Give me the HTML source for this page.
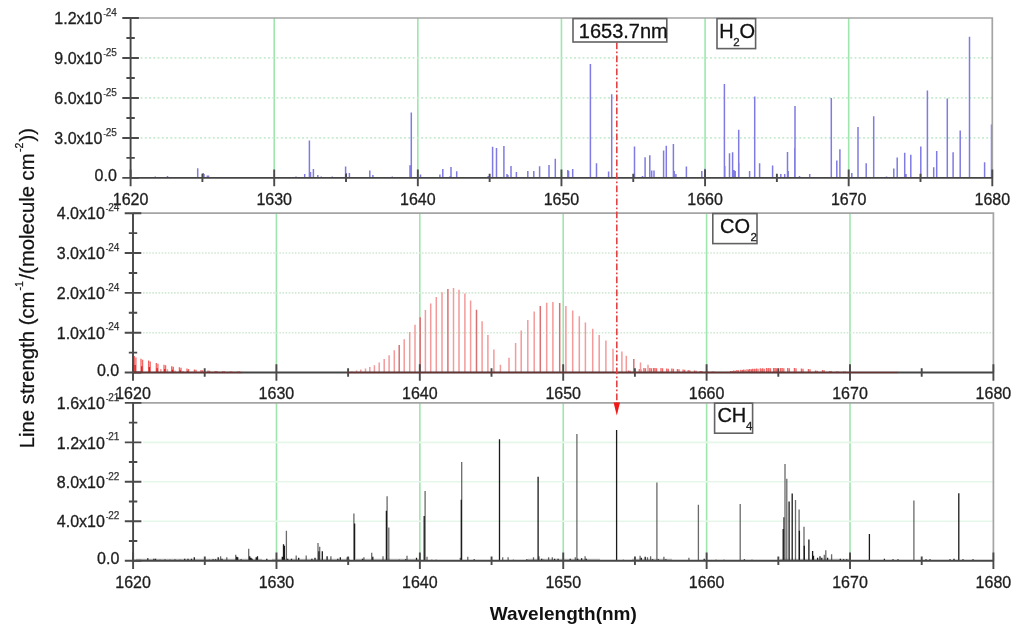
<!DOCTYPE html>
<html><head><meta charset="utf-8"><title>Line strength spectra</title>
<style>
html,body{margin:0;padding:0;background:#fff;}
body{width:1024px;height:634px;overflow:hidden;}
svg{display:block;}
text{font-family:"Liberation Sans", Arial, sans-serif;fill:#1e1e1e;}
.tl{font-size:16px;stroke:#1e1e1e;stroke-width:0.3px;}
.sp{font-size:10px;fill:#333;stroke:#333;stroke-width:0.25px;}
.an{font-size:20px;fill:#111;stroke:#111;stroke-width:0.3px;}
.sb{font-size:11.5px;fill:#222;stroke:#222;stroke-width:0.3px;}
.xt{font-size:19px;font-weight:bold;fill:#111;}
.yt{font-size:20.3px;fill:#111;stroke:#111;stroke-width:0.25px;}
.ys{font-size:10.5px;}
.mn{font-size:7px;}
</style></head>
<body>
<svg width="1024" height="634" viewBox="0 0 1024 634">
<rect width="1024" height="634" fill="#fff"/>
<g id="grid">
<line x1="274.22" y1="18" x2="274.22" y2="177.9" stroke="#9fe6ae" stroke-width="1.6"/>
<line x1="417.83" y1="18" x2="417.83" y2="177.9" stroke="#9fe6ae" stroke-width="1.6"/>
<line x1="561.45" y1="18" x2="561.45" y2="177.9" stroke="#9fe6ae" stroke-width="1.6"/>
<line x1="705.07" y1="18" x2="705.07" y2="177.9" stroke="#9fe6ae" stroke-width="1.6"/>
<line x1="848.68" y1="18" x2="848.68" y2="177.9" stroke="#9fe6ae" stroke-width="1.6"/>
<line x1="140.6" y1="137.93" x2="992.3" y2="137.93" stroke="#c6ebce" stroke-width="1.7" stroke-dasharray="1.8 2.45"/>
<line x1="140.6" y1="97.95" x2="992.3" y2="97.95" stroke="#c6ebce" stroke-width="1.7" stroke-dasharray="1.8 2.45"/>
<line x1="140.6" y1="57.97" x2="992.3" y2="57.97" stroke="#c6ebce" stroke-width="1.7" stroke-dasharray="1.8 2.45"/>
<line x1="276.4" y1="213.2" x2="276.4" y2="372.5" stroke="#9fe6ae" stroke-width="1.6"/>
<line x1="419.8" y1="213.2" x2="419.8" y2="372.5" stroke="#9fe6ae" stroke-width="1.6"/>
<line x1="563.2" y1="213.2" x2="563.2" y2="372.5" stroke="#9fe6ae" stroke-width="1.6"/>
<line x1="706.6" y1="213.2" x2="706.6" y2="372.5" stroke="#9fe6ae" stroke-width="1.6"/>
<line x1="850" y1="213.2" x2="850" y2="372.5" stroke="#9fe6ae" stroke-width="1.6"/>
<line x1="143" y1="332.68" x2="993.4" y2="332.68" stroke="#d2e9d6" stroke-width="1.6" stroke-dasharray="1.6 1.5"/>
<line x1="143" y1="292.85" x2="993.4" y2="292.85" stroke="#d2e9d6" stroke-width="1.6" stroke-dasharray="1.6 1.5"/>
<line x1="143" y1="253.02" x2="993.4" y2="253.02" stroke="#d2e9d6" stroke-width="1.6" stroke-dasharray="1.6 1.5"/>
<line x1="276.48" y1="402.9" x2="276.48" y2="560.7" stroke="#9fe6ae" stroke-width="1.6"/>
<line x1="419.87" y1="402.9" x2="419.87" y2="560.7" stroke="#9fe6ae" stroke-width="1.6"/>
<line x1="563.25" y1="402.9" x2="563.25" y2="560.7" stroke="#9fe6ae" stroke-width="1.6"/>
<line x1="706.63" y1="402.9" x2="706.63" y2="560.7" stroke="#9fe6ae" stroke-width="1.6"/>
<line x1="850.02" y1="402.9" x2="850.02" y2="560.7" stroke="#9fe6ae" stroke-width="1.6"/>
<line x1="143.1" y1="521.25" x2="993.4" y2="521.25" stroke="#e6f7e9" stroke-width="1.6" stroke-dasharray="none"/>
<line x1="143.1" y1="481.8" x2="993.4" y2="481.8" stroke="#e6f7e9" stroke-width="1.6" stroke-dasharray="none"/>
<line x1="143.1" y1="442.35" x2="993.4" y2="442.35" stroke="#e6f7e9" stroke-width="1.6" stroke-dasharray="none"/>
</g>
<g id="data">
<path d="M155.2 177.9V176.4M167.5 177.9V175.9M197.7 177.9V168.3M203.2 177.9V172.9M204 177.9V173.9M207.3 177.9V175.4M208.5 177.9V175.4M243.7 177.9V176.9M283 177.9V176.9M288.3 177.9V176.9M296 177.9V176.4M304.7 177.9V173.9M309.4 177.9V140.4M310.5 177.9V172.1M313.4 177.9V169.1M317.8 177.9V174.9M321.2 177.9V176.4M322.5 177.9V176.9M332.2 177.9V176.4M345.6 177.9V166.4M346.3 177.9V172.9M349.4 177.9V172.9M369.8 177.9V170.4M372.9 177.9V174.9M392.3 177.9V176.4M410 177.9V165.3M411.3 177.9V112.5M420.5 177.9V174.4M439.9 177.9V174.4M442.8 177.9V168.9M450.2 177.9V175.9M451 177.9V166.9M456.7 177.9V171.3M488.2 177.9V175.9M492.6 177.9V146.7M496.5 177.9V148M503.9 177.9V146M507 177.9V173.9M507.9 177.9V174.9M511 177.9V165.9M516.4 177.9V172.1M527.8 177.9V171.1M533.8 177.9V170.9M539.6 177.9V166.2M544.5 177.9V176.9M549 177.9V165M555.3 177.9V158.7M567.8 177.9V170.1M568.6 177.9V171.1M572.7 177.9V169.1M590.4 177.9V63.9M596.5 177.9V163.3M608.6 177.9V171.5M611.7 177.9V94.2M629.7 177.9V176.9M634.5 177.9V146.5M642.5 177.9V175.9M645.1 177.9V157.2M649.8 177.9V155.3M651.7 177.9V170.5M654 177.9V170.5M663.6 177.9V150.5M666.3 177.9V145.8M673.4 177.9V143.9M674.2 177.9V170.9M675.9 177.9V173.9M686.4 177.9V166.6M701.8 177.9V171.1M704.9 177.9V168.7M724.4 177.9V83.9M724.8 177.9V165.9M729.5 177.9V153.3M732.6 177.9V152.3M734 177.9V169.9M735.2 177.9V170.9M738.7 177.9V129.7M738.9 177.9V162.9M749.6 177.9V171.1M754.7 177.9V96.6M759.6 177.9V163.3M772.6 177.9V165.5M780.8 177.9V173.9M784.7 177.9V173.9M787.5 177.9V152.1M788.2 177.9V170.9M795 177.9V106.1M794.8 177.9V147.9M799.5 177.9V175.9M809.7 177.9V173.9M831.3 177.9V97.9M836.8 177.9V160.5M839.9 177.9V149.2M851.8 177.9V172.9M858 177.9V126.9M866.2 177.9V163.3M873.7 177.9V116.3M886.5 177.9V176.4M893.8 177.9V168.5M897.2 177.9V157.6M904.7 177.9V152.7M906 177.9V173.9M910.8 177.9V154.7M920.8 177.9V146.4M927.4 177.9V90.4M933.7 177.9V167.3M936.7 177.9V150.9M947.3 177.9V98.5M953.1 177.9V152.2M960.2 177.9V130.5M969.5 177.9V36.7M984.6 177.9V162.3M991.5 177.9V124.4" fill="none" stroke="#7f7be2" stroke-width="1.5"/>
<path d="M134.3 372.5V356.1M135.9 372.5V357.41M141 372.5V358.7M142.6 372.5V359.8M148.6 372.5V360.5M150.2 372.5V361.46M156.3 372.5V362.9M157.9 372.5V363.67M164 372.5V364.7M165.6 372.5V365.32M171.7 372.5V366.2M173.3 372.5V366.7M179.4 372.5V367.3M181 372.5V367.72M187 372.5V368.6M188.6 372.5V368.91M194.4 372.5V369.5M196 372.5V369.74M201 372.5V370M202.6 372.5V370.2M208 372.5V370.5M209.6 372.5V370.66M215.2 372.5V370.9M216.8 372.5V371.03M222.7 372.5V371.2M224.3 372.5V371.3M230.2 372.5V371.4M231.8 372.5V371.49M237.7 372.5V371.5M239.3 372.5V371.58M628.5 372.5V370.5M630.1 372.5V370.66M639.3 372.5V369M640.9 372.5V369.28M643.9 372.5V367.9M645.5 372.5V368.27M649.8 372.5V367.9M651.4 372.5V368.27M653.5 372.5V367.9M655.1 372.5V368.27M655 372.5V368M656.6 372.5V368.36M661 372.5V368M662.6 372.5V368.36M666.7 372.5V368.5M668.3 372.5V368.82M671.8 372.5V368.5M673.4 372.5V368.82M677.4 372.5V369M679 372.5V369.28M683.1 372.5V369.5M684.7 372.5V369.74M688.2 372.5V370M689.8 372.5V370.2M694.5 372.5V370.5M696.1 372.5V370.66M700.2 372.5V371M701.8 372.5V371.12M706.2 372.5V371.3M707.8 372.5V371.4M712.2 372.5V371.5M713.8 372.5V371.58M730.6 372.5V371M732.2 372.5V371.12M733.7 372.5V370.5M735.3 372.5V370.66M736.9 372.5V370M738.5 372.5V370.2M740.8 372.5V369.7M742.4 372.5V369.92M743.5 372.5V369.5M745.1 372.5V369.74M747 372.5V369.2M748.6 372.5V369.46M749.7 372.5V369M751.3 372.5V369.28M752.5 372.5V368.7M754.1 372.5V369M754.4 372.5V368.7M756 372.5V369M756.4 372.5V368.5M758 372.5V368.82M760.3 372.5V368.3M761.9 372.5V368.64M762.6 372.5V368.3M764.2 372.5V368.64M766.5 372.5V368M768.1 372.5V368.36M768.9 372.5V368M770.5 372.5V368.36M773.6 372.5V368M775.2 372.5V368.36M775.1 372.5V368M776.7 372.5V368.36M780.6 372.5V368M782.2 372.5V368.36M782.2 372.5V368M783.8 372.5V368.36M787.7 372.5V368M789.3 372.5V368.36M794.4 372.5V368M796 372.5V368.36M801.4 372.5V368.5M803 372.5V368.82M808.4 372.5V369M810 372.5V369.28M815.5 372.5V370.5M817.1 372.5V370.66M822.5 372.5V370M824.1 372.5V370.2M829.5 372.5V371M831.1 372.5V371.12M836.5 372.5V371.5M838.1 372.5V371.58M843.6 372.5V371.5M845.2 372.5V371.58" fill="none" stroke="#f26464" stroke-width="1.3"/>
<path d="M135.1 372.5V365.12M141.8 372.5V366.29M149.4 372.5V367.1M157.1 372.5V368.18M164.8 372.5V368.99M172.5 372.5V369.67M180.2 372.5V370.16M187.8 372.5V370.75" fill="none" stroke="#e81c1c" stroke-width="1.4"/>
<path d="M160.8 372.5V369.1M167.4 372.5V369.3M175 372.5V370.5M183 372.5V371M351.8 372.5V371.5M356.5 372.5V370.5M360.8 372.5V369.5M365.5 372.5V368.5M369.8 372.5V367M374.4 372.5V365.2M379.2 372.5V362.5M384.2 372.5V359M389.1 372.5V355.2M394.3 372.5V350.3M404.2 372.5V339.2M409.7 372.5V331.9M415 372.5V324.8M425.4 372.5V310.1M430.7 372.5V303.5M436.3 372.5V297M442 372.5V292.3M453.5 372.5V288M459 372.5V289.7M464.9 372.5V293.5M470.6 372.5V300.5M482.1 372.5V321.3M487.9 372.5V334.9M493.9 372.5V349.5M500.4 372.5V364.7M509 372.5V357.8M515.6 372.5V343.1M521.2 372.5V330.6M527.8 372.5V320.1M534.2 372.5V311.6M546.7 372.5V302.8M552.9 372.5V301.9M565.9 372.5V305.9M572.7 372.5V310.6M579.3 372.5V316.3M585.4 372.5V322.4M592.7 372.5V328.8M599.2 372.5V334.9M605.9 372.5V340.6M613 372.5V348.7M621.9 372.5V351.5M626.3 372.5V355.8M640.5 372.5V362.5M648 372.5V364.8" fill="none" stroke="#f49a9a" stroke-width="1.5"/>
<path d="M399.2 372.5V345.1M420.2 372.5V317.3M447.9 372.5V288.9M476.5 372.5V309.7M540.3 372.5V305.9M559.7 372.5V303M633.8 372.5V359.1" fill="none" stroke="#d87272" stroke-width="1.5"/>
<path d="M220.6 560.7V556.2M226.8 560.7V557.2M235.7 560.7V554.7M248.7 560.7V548.7M286.4 560.7V530.7M296.2 560.7V555.4M306.2 560.7V555.4M318 560.7V543M319.7 560.7V546.8M330.9 560.7V556.2M353.9 560.7V513.4M363.9 560.7V557.2M371.7 560.7V552.7M383 560.7V556.2M387.1 560.7V496.2M388.8 560.7V527.4M407 560.7V555.7M425.1 560.7V491M427 560.7V556.7M460.3 560.7V557.7M461.7 560.7V462.1M467.8 560.7V556.7M502.7 560.7V557.2M508.1 560.7V557.2M533.5 560.7V557.2M539 560.7V556.2M548.6 560.7V557.2M552.3 560.7V557.2M575.3 560.7V557.2M576.9 560.7V434.1M585.1 560.7V556.2M640.1 560.7V555.7M647.5 560.7V557.2M650.6 560.7V556.2M656.9 560.7V482.6M663.9 560.7V556.7M688.9 560.7V557.7M698.4 560.7V504.8M740.2 560.7V503.9M783.7 560.7V517.2M785 560.7V464M786.8 560.7V478.7M795.5 560.7V499.9M799.1 560.7V509.4M804 560.7V526.8M824.3 560.7V554.7M825.8 560.7V550.2M831.6 560.7V554.3M913.9 560.7V500.4" fill="none" stroke="#6a6a6a" stroke-width="1.3"/>
<path d="M147.8 560.7V558.2M153.9 560.7V558.7M155.6 560.7V558.7M160 560.7V559.7M165 560.7V559.5M170 560.7V559.7M175 560.7V559.5M180 560.7V559.7M184.7 560.7V558.7M188 560.7V558.7M191.5 560.7V558.7M194.3 560.7V557.2M209.4 560.7V559.7M213.1 560.7V559.2M215.5 560.7V559.2M218.2 560.7V557.2M222 560.7V558.7M236.7 560.7V556.7M237.7 560.7V557.2M241.1 560.7V559.2M249.7 560.7V556.2M251 560.7V557.7M252.1 560.7V558.7M256.2 560.7V557.2M257.5 560.7V556.2M266.8 560.7V558.7M282.3 560.7V556.7M283.5 560.7V544.3M284.4 560.7V545.7M287.7 560.7V558.7M291.5 560.7V558.7M298.7 560.7V557.7M311.9 560.7V558.7M315 560.7V557.7M318.9 560.7V551.2M322.3 560.7V551.2M327.1 560.7V556.2M337.8 560.7V558.7M340.3 560.7V557.2M347.3 560.7V557.2M354.6 560.7V523.5M362.5 560.7V558.7M372.8 560.7V556.7M386.4 560.7V510.7M399.4 560.7V559.7M405.6 560.7V559.2M416.5 560.7V557.7M424.2 560.7V515.9M431.8 560.7V559.7M436.1 560.7V559.7M461.3 560.7V499.7M474.2 560.7V559.2M499.5 560.7V439.3M513.4 560.7V559.7M526.9 560.7V559.2M538.1 560.7V476.7M541.7 560.7V558.7M543.7 560.7V559.7M554.6 560.7V558.7M558.1 560.7V558.7M570.2 560.7V558.7M577.7 560.7V558.7M581.6 560.7V558.2M586.3 560.7V558.7M616.6 560.7V430.1M623.3 560.7V559.7M641.3 560.7V557.7M645.2 560.7V556.7M652.6 560.7V559.2M658.4 560.7V559.2M665.9 560.7V559.2M704.2 560.7V558.7M716 560.7V559.7M724 560.7V559.7M744.4 560.7V559.2M752 560.7V559.7M783.2 560.7V529M789.1 560.7V501.4M792.2 560.7V493.6M799.4 560.7V530.7M804.3 560.7V545.7M808.9 560.7V539.5M812.6 560.7V551.1M813.5 560.7V555.7M817.6 560.7V557.7M820 560.7V556.2M821.8 560.7V557.7M827.6 560.7V557.7M840.3 560.7V558.7M843.6 560.7V559.2M846.7 560.7V559.2M869.4 560.7V533.9M884.4 560.7V558.7M893 560.7V559.2M898 560.7V559.2M926 560.7V559.2M930 560.7V559.2M950 560.7V559.2M954 560.7V558.7M958.8 560.7V493.3M963 560.7V559.2M973 560.7V559.2" fill="none" stroke="#1a1a1a" stroke-width="1.3"/>
<path d="M136 559.3H262M272 559.3H350M356 559.3H420M528 559.3H600M632 559.3H672M780 559.3H850" fill="none" stroke="#333" stroke-opacity="0.35" stroke-width="1"/>
</g>
<g id="axes">
<path d="M130.6 18H992.3V177.9" fill="none" stroke="#a4a4a4" stroke-width="1.7"/>
<path d="M130.6 18V177.9H992.3" fill="none" stroke="#454545" stroke-width="1.9"/>
<path d="M122.3 177.9H138.9M126.4 157.91H134.8M122.3 137.93H138.9M126.4 117.94H134.8M122.3 97.95H138.9M126.4 77.96H134.8M122.3 57.97H138.9M126.4 37.99H134.8M122.3 18H138.9M130.6 169.6V186.2M274.22 169.6V186.2M417.83 169.6V186.2M561.45 169.6V186.2M705.07 169.6V186.2M848.68 169.6V186.2M992.3 169.6V186.2M202.41 173.7V182.1M346.02 173.7V182.1M489.64 173.7V182.1M633.26 173.7V182.1M776.88 173.7V182.1M920.49 173.7V182.1" fill="none" stroke="#4a4a4a" stroke-width="1.9"/>
<path d="M133 213.2H993.4V372.5" fill="none" stroke="#a4a4a4" stroke-width="1.7"/>
<path d="M133 213.2V372.5H993.4" fill="none" stroke="#454545" stroke-width="1.9"/>
<path d="M124.7 372.5H141.3M128.8 352.59H137.2M124.7 332.68H141.3M128.8 312.76H137.2M124.7 292.85H141.3M128.8 272.94H137.2M124.7 253.02H141.3M128.8 233.11H137.2M124.7 213.2H141.3M133 364.2V380.8M276.4 364.2V380.8M419.8 364.2V380.8M563.2 364.2V380.8M706.6 364.2V380.8M850 364.2V380.8M993.4 364.2V380.8M204.7 368.3V376.7M348.1 368.3V376.7M491.5 368.3V376.7M634.9 368.3V376.7M778.3 368.3V376.7M921.7 368.3V376.7" fill="none" stroke="#4a4a4a" stroke-width="1.9"/>
<path d="M133.1 402.9H993.4V560.7" fill="none" stroke="#a4a4a4" stroke-width="1.7"/>
<path d="M133.1 402.9V560.7H993.4" fill="none" stroke="#454545" stroke-width="1.9"/>
<path d="M124.8 560.7H141.4M128.9 540.98H137.3M124.8 521.25H141.4M128.9 501.52H137.3M124.8 481.8H141.4M128.9 462.07H137.3M124.8 442.35H141.4M128.9 422.62H137.3M124.8 402.9H141.4M133.1 552.4V569M276.48 552.4V569M419.87 552.4V569M563.25 552.4V569M706.63 552.4V569M850.02 552.4V569M993.4 552.4V569M204.79 556.5V564.9M348.17 556.5V564.9M491.56 556.5V564.9M634.94 556.5V564.9M778.33 556.5V564.9M921.71 556.5V564.9" fill="none" stroke="#4a4a4a" stroke-width="1.9"/>
</g>
<g id="labels">
<text x="116.8" y="181.2" text-anchor="end" class="tl">0.0</text>
<text x="102.4" y="144.12" text-anchor="end" class="tl">3.0x10</text>
<text x="116.9" y="135.62" text-anchor="end" class="sp"><tspan class="mn">-</tspan>25</text>
<text x="102.4" y="104.15" text-anchor="end" class="tl">6.0x10</text>
<text x="116.9" y="95.65" text-anchor="end" class="sp"><tspan class="mn">-</tspan>25</text>
<text x="102.4" y="64.17" text-anchor="end" class="tl">9.0x10</text>
<text x="116.9" y="55.67" text-anchor="end" class="sp"><tspan class="mn">-</tspan>25</text>
<text x="102.4" y="24.2" text-anchor="end" class="tl">1.2x10</text>
<text x="116.9" y="15.7" text-anchor="end" class="sp"><tspan class="mn">-</tspan>24</text>
<text x="130.6" y="204.6" text-anchor="middle" class="tl">1620</text>
<text x="274.22" y="204.6" text-anchor="middle" class="tl">1630</text>
<text x="417.83" y="204.6" text-anchor="middle" class="tl">1640</text>
<text x="561.45" y="204.6" text-anchor="middle" class="tl">1650</text>
<text x="705.07" y="204.6" text-anchor="middle" class="tl">1660</text>
<text x="848.68" y="204.6" text-anchor="middle" class="tl">1670</text>
<text x="992.3" y="204.6" text-anchor="middle" class="tl">1680</text>
<text x="119.2" y="375.8" text-anchor="end" class="tl">0.0</text>
<text x="104.8" y="338.88" text-anchor="end" class="tl">1.0x10</text>
<text x="119.3" y="330.38" text-anchor="end" class="sp"><tspan class="mn">-</tspan>24</text>
<text x="104.8" y="299.05" text-anchor="end" class="tl">2.0x10</text>
<text x="119.3" y="290.55" text-anchor="end" class="sp"><tspan class="mn">-</tspan>24</text>
<text x="104.8" y="259.22" text-anchor="end" class="tl">3.0x10</text>
<text x="119.3" y="250.72" text-anchor="end" class="sp"><tspan class="mn">-</tspan>24</text>
<text x="104.8" y="219.4" text-anchor="end" class="tl">4.0x10</text>
<text x="119.3" y="210.9" text-anchor="end" class="sp"><tspan class="mn">-</tspan>24</text>
<text x="133" y="399.3" text-anchor="middle" class="tl">1620</text>
<text x="276.4" y="399.3" text-anchor="middle" class="tl">1630</text>
<text x="419.8" y="399.3" text-anchor="middle" class="tl">1640</text>
<text x="563.2" y="399.3" text-anchor="middle" class="tl">1650</text>
<text x="706.6" y="399.3" text-anchor="middle" class="tl">1660</text>
<text x="850" y="399.3" text-anchor="middle" class="tl">1670</text>
<text x="993.4" y="399.3" text-anchor="middle" class="tl">1680</text>
<text x="119.3" y="564" text-anchor="end" class="tl">0.0</text>
<text x="104.9" y="527.45" text-anchor="end" class="tl">4.0x10</text>
<text x="119.4" y="518.95" text-anchor="end" class="sp"><tspan class="mn">-</tspan>22</text>
<text x="104.9" y="488" text-anchor="end" class="tl">8.0x10</text>
<text x="119.4" y="479.5" text-anchor="end" class="sp"><tspan class="mn">-</tspan>22</text>
<text x="104.9" y="448.55" text-anchor="end" class="tl">1.2x10</text>
<text x="119.4" y="440.05" text-anchor="end" class="sp"><tspan class="mn">-</tspan>21</text>
<text x="104.9" y="409.1" text-anchor="end" class="tl">1.6x10</text>
<text x="119.4" y="400.6" text-anchor="end" class="sp"><tspan class="mn">-</tspan>21</text>
<text x="133.1" y="587.6" text-anchor="middle" class="tl">1620</text>
<text x="276.48" y="587.6" text-anchor="middle" class="tl">1630</text>
<text x="419.87" y="587.6" text-anchor="middle" class="tl">1640</text>
<text x="563.25" y="587.6" text-anchor="middle" class="tl">1650</text>
<text x="706.63" y="587.6" text-anchor="middle" class="tl">1660</text>
<text x="850.02" y="587.6" text-anchor="middle" class="tl">1670</text>
<text x="993.4" y="587.6" text-anchor="middle" class="tl">1680</text>
</g>
<g id="annot">
<path d="M134 372.5H242M348 372.5H898" stroke="#b01010" stroke-opacity="0.33" stroke-width="1.6" fill="none"/>
<line x1="616.8" y1="42.5" x2="616.8" y2="403" stroke="#e04444" stroke-width="1.6" stroke-dasharray="6.8 2.3 1.6 2.3"/>
<path d="M613.6 402.5L620 402.5L616.8 415.5Z" fill="#f01818"/>
<rect x="573" y="18.6" width="93.8" height="23.4" fill="#fff" stroke="#626262" stroke-width="1.6"/>
<text x="578.8" y="37.6" class="an">1653.7nm</text>
<rect x="717" y="18.6" width="38.6" height="30" fill="#fff" stroke="#626262" stroke-width="1.6"/>
<text x="719.2" y="37.7" class="an">H</text><text x="733.3" y="45.8" class="sb">2</text><text x="739.4" y="37.7" class="an">O</text>
<rect x="712.8" y="213.6" width="44.2" height="30" fill="#fff" stroke="#626262" stroke-width="1.6"/>
<text x="720" y="233.3" class="an">CO</text><text x="750.6" y="241.3" class="sb">2</text>
<rect x="714.6" y="403.2" width="38" height="30" fill="#fff" stroke="#626262" stroke-width="1.6"/>
<text x="717.4" y="422.2" class="an">CH</text><text x="746" y="429.5" class="sb">4</text>
</g>
<g id="titles">
<text x="563.3" y="620" text-anchor="middle" class="xt">Wavelength(nm)</text>
<text transform="translate(33.7 448.2) rotate(-90)" class="yt"><tspan x="0" y="0">Line strength (cm</tspan><tspan class="ys" x="157.7" y="-10.6">-1</tspan><tspan x="168.7" y="0">/(molecule</tspan><tspan x="267.8" y="0">cm</tspan><tspan class="ys" x="296.3" y="-10.6">-2</tspan><tspan x="306.6" y="0">))</tspan></text>
</g>
</svg>
</body></html>
